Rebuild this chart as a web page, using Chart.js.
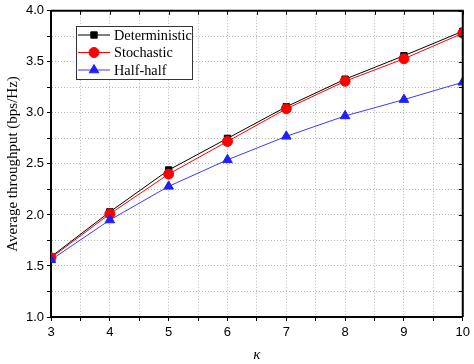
<!DOCTYPE html>
<html>
<head>
<meta charset="utf-8">
<script src="https://cdn.jsdelivr.net/npm/chart.js@4.4.0/dist/chart.umd.min.js"></script>
<style>
  body { margin: 0; background: #fff; }
  #wrap { width: 474px; height: 364px; }
</style>
</head>
<body>
<div id="wrap"><canvas id="myChart"></canvas></div>
<script>
const kappa = [3, 4, 5, 6, 7, 8, 9, 10];
const deterministic = [1.59, 2.03, 2.44, 2.75, 3.06, 3.33, 3.56, 3.80];
const stochastic = [1.58, 2.01, 2.40, 2.72, 3.04, 3.31, 3.53, 3.78];
const halfHalf = [1.56, 1.95, 2.28, 2.54, 2.77, 2.97, 3.13, 3.30];
const seriesNames = ['Deterministic', 'Stochastic', 'Half-half'];
const yTitle = 'Average throughput (bps/Hz)';
const xTitle = 'κ';

const pts = (ys) => kappa.map((x, i) => ({x: x, y: ys[i]}));

// legend inside the plot, drawn by hand
const boxLegend = {
  id: 'boxLegend',
  afterDraw(chart) {
    const ctx = chart.ctx;
    ctx.save();
    ctx.strokeStyle = '#333';
    ctx.lineWidth = 1;
    ctx.fillStyle = '#fff';
    ctx.fillRect(76.5, 26.5, 116, 53);
    ctx.strokeRect(76.5, 26.5, 116, 53);
    chart.data.datasets.forEach((ds, i) => {
      const y = 35 + i * 17.5;
      ctx.strokeStyle = ds.borderColor;
      ctx.lineWidth = 1;
      ctx.beginPath();
      ctx.moveTo(78, y);
      ctx.lineTo(110, y);
      ctx.stroke();
      ctx.fillStyle = ds.pointBackgroundColor;
      ctx.strokeStyle = ds.pointBorderColor;
      Chart.helpers.drawPoint(ctx, {pointStyle: ds.pointStyle, radius: ds.pointRadius, borderWidth: 1}, 94, y);
      ctx.fillStyle = '#000';
      ctx.font = '14.3px "Liberation Serif", "Times New Roman", serif';
      ctx.textBaseline = 'middle';
      ctx.fillText(ds.label, 114, y + 1);
    });
    ctx.restore();
  }
};

// right and top frame with inward ticks
const frame = {
  id: 'frame',
  afterDraw(chart) {
    const ctx = chart.ctx;
    const a = chart.chartArea;
    const xs = chart.scales.x, ys = chart.scales.y;
    ctx.save();
    ctx.strokeStyle = '#000';
    ctx.lineWidth = 2;
    ctx.beginPath();
    ctx.moveTo(a.left, a.top);
    ctx.lineTo(a.right, a.top);
    ctx.lineTo(a.right, a.bottom);
    ctx.stroke();
    ctx.lineWidth = 1;
    ctx.beginPath();
    xs.ticks.forEach(t => {
      const px = Math.round(xs.getPixelForValue(t.value)) + 0.5;
      ctx.moveTo(px, a.top);
      ctx.lineTo(px, a.top + 4);
    });
    ys.ticks.forEach(t => {
      const py = Math.round(ys.getPixelForValue(t.value)) + 0.5;
      ctx.moveTo(a.right, py);
      ctx.lineTo(a.right - 4, py);
    });
    ctx.stroke();
    ctx.restore();
  }
};

new Chart(document.getElementById('myChart'), {
  type: 'line',
  data: {
    datasets: [
      {label: seriesNames[0], data: pts(deterministic), borderColor: '#000', pointBackgroundColor: '#000',
        pointBorderColor: '#000', pointStyle: 'rect', pointRadius: 4.5, borderWidth: 1, order: 2},
      {label: seriesNames[1], data: pts(stochastic), borderColor: '#f00', pointBackgroundColor: '#f00',
        pointBorderColor: '#f00', pointStyle: 'circle', pointRadius: 5, borderWidth: 1, order: 1},
      {label: seriesNames[2], data: pts(halfHalf), borderColor: '#3b3bff', pointBackgroundColor: '#1f1fff',
        pointBorderColor: '#1f1fff', pointStyle: 'triangle', pointRadius: 5.5, borderWidth: 1, order: 0}
    ]
  },
  options: {
    responsive: true,
    maintainAspectRatio: false,
    animation: false,
    layout: {padding: {top: 9, right: 10, left: 0, bottom: 0}},
    plugins: {legend: {display: false}, tooltip: {enabled: false}},
    scales: {
      x: {
        type: 'linear', min: 3, max: 10,
        afterFit: (s) => { s.height = 47; },
        ticks: {
          stepSize: 0.5, autoSkip: false, maxRotation: 0, padding: 4, color: '#000',
          font: {family: '"Liberation Sans", Arial, sans-serif', size: 13},
          callback: (v) => Number.isInteger(v) ? String(v) : ''
        },
        grid: {color: '#b5b5b5', lineWidth: 1, tickLength: 4, tickColor: '#000', tickBorderDash: []},
        border: {color: '#000', width: 2, dash: [1, 2]},
        title: {display: true, text: xTitle, color: '#000', padding: {top: 6, bottom: 0},
          font: {family: '"Liberation Serif", serif', size: 15, style: 'italic'}}
      },
      y: {
        min: 1, max: 4,
        afterFit: (s) => { s.width = 51; },
        ticks: {
          stepSize: 0.25, autoSkip: false, padding: 3, color: '#000',
          font: {family: '"Liberation Sans", Arial, sans-serif', size: 13},
          callback: (v) => (Math.round(v * 100) % 50 === 0 ? v.toFixed(1) : '')
        },
        grid: {color: '#b5b5b5', lineWidth: 1, tickLength: 4, tickColor: '#000', tickBorderDash: []},
        border: {color: '#000', width: 2, dash: [1, 2]},
        title: {display: true, text: yTitle, color: '#000', padding: {top: 4, bottom: 2},
          font: {family: '"Liberation Serif", serif', size: 15}}
      }
    }
  },
  plugins: [boxLegend, frame]
});
</script>
</body>
</html>
